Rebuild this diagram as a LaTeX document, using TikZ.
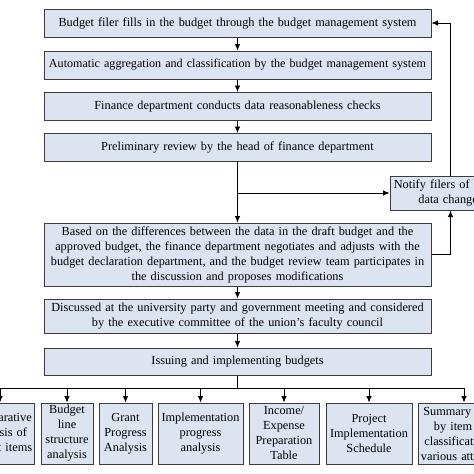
\documentclass[tikz,border=0pt]{standalone}
\usepackage{fontspec}
\setmainfont{Liberation Serif}
\usepackage{tikz}
\usetikzlibrary{shapes, arrows.meta}
\definecolor{boxfill}{RGB}{220,228,242}
\definecolor{boxline}{RGB}{60,60,60}
\tikzstyle{block} =
        [
                rectangle,
                draw = boxline,
                fill = boxfill,
                line width = 1pt,
                text width = 383pt,
                align = center,
                minimum height = 28pt,
                inner xsep = 2pt,
                inner ysep = 1pt
        ]
\tikzstyle{item} =
        [
                rectangle,
                draw = boxline,
                fill = boxfill,
                line width = 1pt,
                align = center,
                minimum height = 61pt,
                inner sep = 1pt
        ]
\tikzstyle{line} =
        [
                draw,
                line width = 0.8pt,
                -{Latex[length = 6.5pt, width = 5.5pt]}
        ]
\begin{document}
\begin{tikzpicture}[x = 1pt, y = -1pt, node distance = 42pt, font = \fontsize{12.3}{15}\selectfont]
	        \useasboundingbox (0,0) rectangle (474,474);
	        \node [block] (fill) at (237.5,23) {Budget filer fills in the budget through the budget management system};
	        \node [block, below of = fill, text width = 387pt, inner xsep = 0pt, font = \fontsize{12.1}{15}\selectfont] (aggregate) {\mbox{Automatic aggregation and classification by the budget management system}};
	        \node [block, below of = aggregate, node distance = 41.5pt] (check) {Finance department conducts data reasonableness checks};
	        \node [block, below of = check, node distance = 41pt] (review) {Preliminary review by the head of finance department};
	        \node [block, below of = review, node distance = 107pt, minimum height = 63pt] (negotiate) {Based on the differences between the data in the draft budget and the\\ approved budget, the finance department negotiates and adjusts with the\\ budget declaration department, and the budget review team participates in\\ the discussion and proposes modifications};
	        \node [block, below of = negotiate, node distance = 61.5pt, minimum height = 34pt] (meeting) {Discussed at the university party and government meeting and considered\\ by the executive committee of the union's faculty council};
	        \node [block, below of = meeting, node distance = 45.5pt, minimum height = 27pt] (issue) {Issuing and implementing budgets};
	        \node [block, text width = 117pt, minimum height = 34pt] (notify) at (450.5,193) {Notify filers of budget\\ data changes};
	        % results of the budget execution
	        \node [item, text width = 66pt] (compare) at (0,433.5) {Comparative\\ analysis of\\ budget items};
	        \node [item, text width = 50pt] (structure) at (67,433.5) {Budget\\ line\\ structure\\ analysis};
	        \node [item, text width = 51pt] (grant) at (125.5,433.5) {Grant\\ Progress\\ Analysis};
	        \node [item, text width = 83pt] (progress) at (200.5,433.5) {Implementation\\ progress\\ analysis};
	        \node [item, text width = 68pt] (income) at (284,433.5) {Income/\\ Expense\\ Preparation\\ Table};
	        \node [item, text width = 84pt] (schedule) at (369,433.5) {Project\\ Implementation\\ Schedule};
	        \node [item, text width = 90pt] (summary) at (464,433.5) {Summary of the\\ by item and\\ classification of\\ various attributes};
	        \coordinate (branch) at (237.5,193);
	        \coordinate (bus) at (237.5,388);
	        \path [line] (fill) -- (aggregate);
	        \path [line] (aggregate) -- (check);
	        \path [line] (check) -- (review);
	        \path [line] (review) -- (negotiate);
	        \path [line] (branch) -- (notify);
	        \path [line] (negotiate.east) -| (notify.south);
	        \path [line] (notify.north) |- (fill.east);
	        \path [line] (negotiate) -- (meeting);
	        \path [line] (meeting) -- (issue);
	        \path [draw, line width = 0.8pt] (issue) -- (bus);
	        \foreach \n in {compare, structure, grant, progress, income, schedule, summary}
	                \path [line] (bus) -| (\n.north);
\end{tikzpicture}
\end{document}
